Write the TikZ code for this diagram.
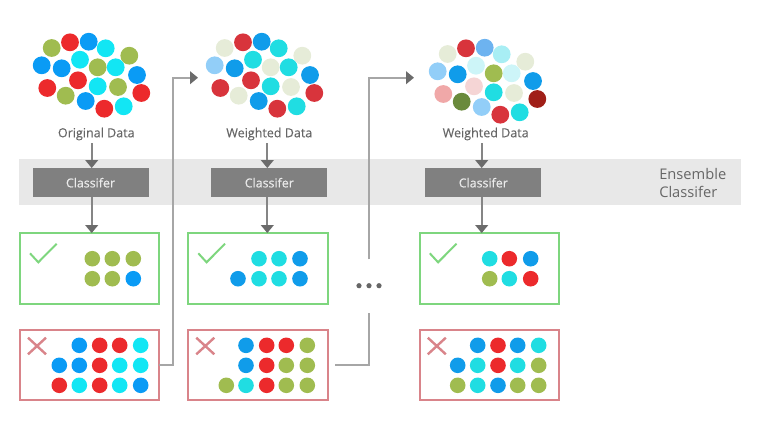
\documentclass[tikz,border=0pt]{standalone}
\usepackage{fontspec}
\setmainfont{Open Sans}
\newfontfamily\semi{Open Sans}[FakeBold=0.2]
\usetikzlibrary{arrows.meta}
% dot colours
\definecolor{bl}{HTML}{0A9BF5}
\definecolor{rd}{HTML}{EC2A2C}
\definecolor{cy}{HTML}{12E6F4}
\definecolor{ol}{HTML}{A0BC50}
\definecolor{blb}{HTML}{109CEA}
\definecolor{rdb}{HTML}{D8343C}
\definecolor{cyb}{HTML}{20DDE2}
\definecolor{pale}{HTML}{E6ECD8}
\definecolor{lbl}{HTML}{92CEF8}
\definecolor{mbl}{HTML}{6DB3F0}
\definecolor{pcy}{HTML}{A8EEF4}
\definecolor{vcy}{HTML}{CDF5F8}
\definecolor{pnk}{HTML}{F0A8A8}
\definecolor{ppk}{HTML}{F5D5D5}
\definecolor{drd}{HTML}{A01F18}
\definecolor{dol}{HTML}{6A8A3C}
\definecolor{okc}{HTML}{7ED67E}
\definecolor{nok}{HTML}{D9848A}
\tikzset{
  band/.style={fill=black!9,draw=none},
  clf/.style={fill=black!50,draw=none,minimum width=87pt,minimum height=22pt,inner sep=0pt,outer sep=0pt,text=white!92!black,font=\semi\fontsize{9.3}{11}\selectfont},
  okbox/.style={draw=okc,line width=1.4pt,minimum width=104.5pt,minimum height=53pt,inner sep=0pt,outer sep=0pt},
  badbox/.style={draw=nok,line width=1.4pt,minimum width=104.5pt,minimum height=52.5pt,inner sep=0pt,outer sep=0pt},
  lab/.style={text=black!60,font=\semi\fontsize{9.4}{11}\selectfont,inner sep=0pt},
  flow/.style={draw=black!48,line width=1.4pt,-{Triangle[length=6pt,width=9.5pt,color=black!58]}},
  link/.style={draw=black!35,line width=1.6pt},
}
\begin{document}
\begin{tikzpicture}[x=0.75pt,y=0.75pt,yscale=-1,xscale=1]
\useasboundingbox (0,0) rectangle (760,430);

% band behind the classifiers
\node[band,minimum width=541.5pt,minimum height=34.5pt,inner sep=0pt] (band) at (379.7,182.3) {};
\node[lab,anchor=west,font=\fontsize{11}{13}\selectfont] (ens1) at (659,174.3) {Ensemble};
\node[lab,anchor=west,font=\fontsize{11}{13}\selectfont] (ens2) at (659,192.3) {Classifer};

% data clouds
\foreach \x/\y/\a/\b/\c in {
  51.7/48/ol/pale/pale, 70/42.3/rd/rdb/rdb, 88.7/41.7/bl/blb/mbl, 105.7/48.3/cy/cyb/pcy,
  129.3/55.7/ol/pale/pale, 41.7/65.3/bl/lbl/lbl, 61.7/68.3/bl/blb/blb, 80/59.7/cy/cyb/vcy,
  97.7/67.3/ol/pale/ol, 115.7/67.3/cy/cyb/vcy, 137/75/bl/blb/blb, 47.3/88/rd/rdb/pnk,
  78/80.3/rd/rdb/ppk, 97.7/86.3/cy/cyb/cyb, 118/87/ol/pale/pale, 141.3/93/rd/rdb/drd,
  65.7/95.7/ol/pale/dol, 85.7/101/bl/blb/lbl, 104.3/108.7/rd/rdb/rdb, 123.7/106.3/cy/cyb/cyb}{
  \fill[\a] (\x,\y) circle (8.9);
  \fill[\b] (\x+173,\y) circle (8.9);
  \fill[\c] (\x+396,\y+6) circle (8.9);
}

\node[lab] (d1) at (96.3,134) {Original Data};
\node[lab] (d2) at (269.3,134) {Weighted Data};
\node[lab] (d3) at (485.7,134) {Weighted Data};

% classifiers
\node[clf] (c1) at (90.5,182.7) {Classifer};
\node[clf] (c2) at (269.3,182.7) {Classifer};
\node[clf] (c3) at (483.3,182.7) {Classifer};

% result boxes
\node[okbox] (g1) at (89.7,268.4) {};
\node[okbox] (g2) at (258,268.4) {};
\node[okbox] (g3) at (489.5,268.4) {};
\node[badbox] (r1) at (89.7,364.7) {};
\node[badbox] (r2) at (258,364.7) {};
\node[badbox] (r3) at (489.5,364.7) {};

% top and lower arrows
\coordinate (s1) at (91.7,143);
\coordinate (s2) at (267.3,143);
\coordinate (s3) at (481.7,143);
\draw[flow] (s1) -- (s1 |- c1.north);
\draw[flow] (s2) -- (s2 |- c2.north);
\draw[flow] (s3) -- (s3 |- c3.north);
\draw[flow] (s1 |- c1.south) -- (s1 |- g1.north);
\draw[flow] (s2 |- c2.south) -- (s2 |- g2.north);
\draw[flow] (s3 |- c3.south) -- (s3 |- g3.north);

% ticks
\foreach \dx in {0,168.3,399.8}{
  \draw[okc,line width=1.5pt] (30+\dx,253.3) -- (38.3+\dx,262.3) -- (56.7+\dx,243.7);
  \draw[nok,line width=1.8pt] (28+\dx,337.7) -- (46+\dx,354.3) (46+\dx,337.7) -- (28+\dx,354.3);
}

% dots in the green boxes
\foreach \x/\y/\c in {92.3/258.7/ol,112.3/258.7/ol,133.3/258.7/ol,92.3/278.7/ol,112.3/278.7/ol,133.3/278.7/bl,
  259/258.7/cyb,279/258.7/cyb,300/258.7/blb,238/278.7/blb,259/278.7/cyb,279/278.7/cyb,300/278.7/blb,
  489.7/258.7/cyb,509.3/258.7/rd,530.7/258.7/blb,489.7/278.7/ol,509.3/278.7/cyb,530.7/278.7/rd}{
  \fill[\c] (\x,\y) circle (7.8);
}
% dots in the red boxes
\foreach \x/\y/\c in {79.3/345.3/bl,99.7/345.3/rd,119.7/345.3/rd,140.7/345.3/cy,
  59.3/365.3/bl,79.3/365.3/bl,99.7/365.3/rd,119.7/365.3/cy,140.7/365.3/cy,
  59.3/385.3/rd,79.3/385.3/cy,99.7/385.3/rd,119.7/385.3/cy,140.7/385.3/bl,
  246/345.3/blb,266.7/345.3/rd,286.3/345.3/rd,307.3/345.3/ol,
  246/365.3/blb,266.7/365.3/rd,286.3/365.3/ol,307.3/365.3/ol,
  226.3/385.3/ol,246/385.3/cyb,266.7/385.3/rd,286.3/385.3/ol,307.3/385.3/ol,
  477.7/345.3/blb,498/345.3/rd,517.7/345.3/blb,538.7/345.3/cyb,
  457.7/365.3/blb,477.7/365.3/cyb,498/365.3/rd,517.7/365.3/cyb,538.7/365.3/ol,
  457.7/385.3/ol,477.7/385.3/cyb,498/385.3/blb,517.7/385.3/ol,538.7/385.3/ol}{
  \fill[\c] (\x,\y) circle (7.8);
}

% feedback links
\coordinate (k1) at (173.4,77.7);
\coordinate (t1) at (198,77.7);
\draw[link,-{Triangle[length=6pt,width=9.5pt,color=black!58]}] (r1.east) -| (k1) -- (t1);

\coordinate (o2) at (335,364.7);
\coordinate (k2) at (369,312.7);
\coordinate (k3) at (369,259.3);
\coordinate (k4) at (369,77.7);
\coordinate (t2) at (414,77.7);
\draw[link] (o2) -| (k2);
\draw[link,-{Triangle[length=6pt,width=9.5pt,color=black!58]}] (k3) -- (k4) -- (t2);
\foreach \x in {359,369,379}
  \fill[black!60] (\x,285.7) circle (2.6);
\end{tikzpicture}
\end{document}
